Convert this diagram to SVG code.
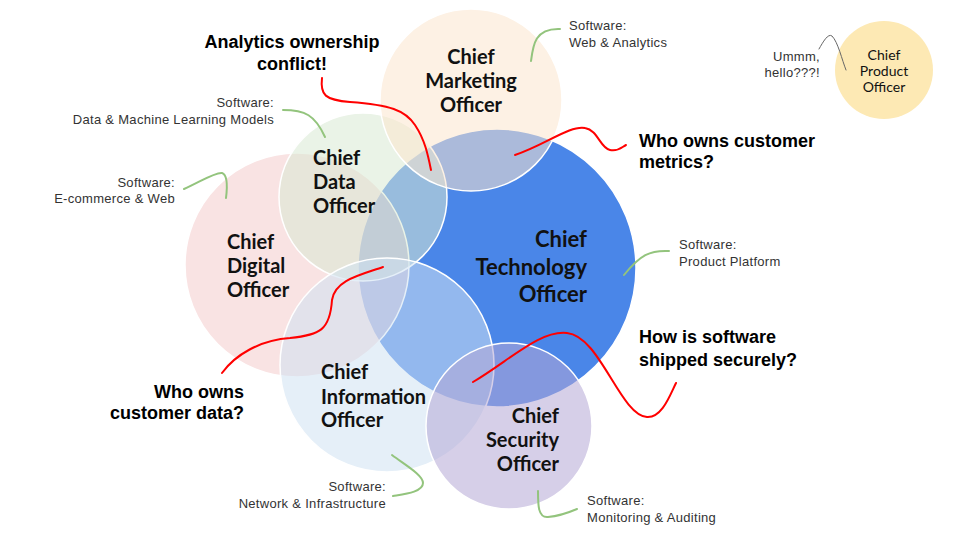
<svg xmlns="http://www.w3.org/2000/svg" width="960" height="540" viewBox="0 0 960 540">
<style>
.c{stroke:#ffffff;stroke-width:1.5}
.t{fill-opacity:0.55}
.lbl{font-family:Lato,"Noto Sans",sans-serif;font-weight:bold;font-size:20px;fill:#111}
.q{font-family:"Liberation Sans",Arial,sans-serif;font-weight:bold;font-size:18px;fill:#000}
.s{font-family:"Liberation Sans",Arial,sans-serif;font-size:13px;letter-spacing:0.3px;fill:#333}
.g{fill:none;stroke:#93c47d;stroke-width:2;stroke-linecap:round}
.r{fill:none;stroke:#ff0000;stroke-width:2;stroke-linecap:round}
.k{fill:none;stroke:#666666;stroke-width:1;stroke-linecap:round}
</style>
<rect width="960" height="540" fill="#ffffff"/>
<g id="cto"><circle class="c" cx="497" cy="268" r="139" fill="#4a86e8"/></g>
<g id="cdigo"><circle class="c t" cx="297" cy="265" r="112" fill="#f4cccc"/></g>
<g id="cdo"><circle class="c t" cx="363" cy="197" r="84" fill="#d9ead3"/></g>
<g id="cmo"><circle class="c t" cx="471" cy="100" r="91" fill="#fce5cd"/></g>
<g id="cio"><circle class="c t" cx="387" cy="365" r="107" fill="#cfe2f3"/></g>
<g id="cso"><circle class="c t" cx="509" cy="426" r="83" fill="#b4a7d6"/></g>
<g id="cpo"><circle cx="884" cy="70" r="49" fill="#fde9b4"/></g>

<g id="labels">
<text class="lbl" text-anchor="middle"><tspan x="471" y="64">Chief</tspan><tspan x="471" y="88">Marketing</tspan><tspan x="471" y="112">Officer</tspan></text>
<text class="lbl"><tspan x="313" y="165">Chief</tspan><tspan x="313" y="189">Data</tspan><tspan x="313" y="213">Officer</tspan></text>
<text class="lbl"><tspan x="227" y="249">Chief</tspan><tspan x="227" y="273">Digital</tspan><tspan x="227" y="297">Officer</tspan></text>
<text class="lbl" text-anchor="end" style="font-size:22px"><tspan x="587" y="247">Chief</tspan><tspan x="587" y="275">Technology</tspan><tspan x="587" y="302">Officer</tspan></text>
<text class="lbl"><tspan x="321" y="379">Chief</tspan><tspan x="321" y="404">Information</tspan><tspan x="321" y="427">Officer</tspan></text>
<text class="lbl" text-anchor="end"><tspan x="559" y="423">Chief</tspan><tspan x="559" y="447">Security</tspan><tspan x="559" y="471">Officer</tspan></text>
<text class="lbl" text-anchor="middle" style="font-weight:normal;font-size:14px"><tspan x="884" y="60">Chief</tspan><tspan x="884" y="76">Product</tspan><tspan x="884" y="92">Officer</tspan></text>
</g>

<g id="connectors">
<path class="g" d="M531,61 C533,45 535,28 560,29"/>
<path class="g" d="M283,110 C305,110 315,115 325,137"/>
<path class="g" d="M184,189 C200,182 215,172 222,173 C228,175 227,190 226,198"/>
<path class="g" d="M624,275 C640,255 650,250 669,251"/>
<path class="g" d="M392,455 C405,465 423,475 423,483 C423,492 405,494 393,496"/>
<path class="g" d="M538,491 C538,505 538,518 548,517 C560,516 570,512 577,509"/>
<path class="k" d="M819,49 C823,42 828,33 832,36 C838,42 842,60 846,70"/>
<path class="r" d="M322,78 C320,95 325,100 350,102 C390,105 405,110 415,125 C425,140 428,155 431,170"/>
<path class="r" d="M515,155 C545,145 570,125 585,128 C598,130 600,148 610,150 C618,152 622,147 626,145"/>
<path class="r" d="M473,382 C510,360 540,330 567,333 C600,336 620,415 647,417 C662,418 670,395 676,383"/>
<path class="r" d="M383,267 C360,275 335,280 332,300 C330,330 320,335 290,338 C260,340 235,355 222,373"/>
</g>

<g id="annotations">
<text class="q" text-anchor="middle"><tspan x="292" y="48">Analytics ownership</tspan><tspan x="292" y="70">conflict!</tspan></text>
<text class="q"><tspan x="639" y="147">Who owns customer</tspan><tspan x="639" y="168">metrics?</tspan></text>
<text class="q"><tspan x="639" y="343">How is software</tspan><tspan x="639" y="366">shipped securely?</tspan></text>
<text class="q" text-anchor="end"><tspan x="244" y="398">Who owns</tspan><tspan x="244" y="419">customer data?</tspan></text>
<text class="s"><tspan x="569" y="30">Software:</tspan><tspan x="569" y="47">Web &amp; Analytics</tspan></text>
<text class="s" text-anchor="end"><tspan x="274" y="107">Software:</tspan><tspan x="274" y="124">Data &amp; Machine Learning Models</tspan></text>
<text class="s" text-anchor="end"><tspan x="175" y="187">Software:</tspan><tspan x="175" y="203">E-commerce &amp; Web</tspan></text>
<text class="s"><tspan x="679" y="249">Software:</tspan><tspan x="679" y="266">Product Platform</tspan></text>
<text class="s" text-anchor="end"><tspan x="386" y="491">Software:</tspan><tspan x="386" y="508">Network &amp; Infrastructure</tspan></text>
<text class="s"><tspan x="587" y="505">Software:</tspan><tspan x="587" y="522">Monitoring &amp; Auditing</tspan></text>
<text class="s" text-anchor="end"><tspan x="820" y="61">Ummm,</tspan><tspan x="820" y="77">hello???!</tspan></text>
</g>
</svg>
